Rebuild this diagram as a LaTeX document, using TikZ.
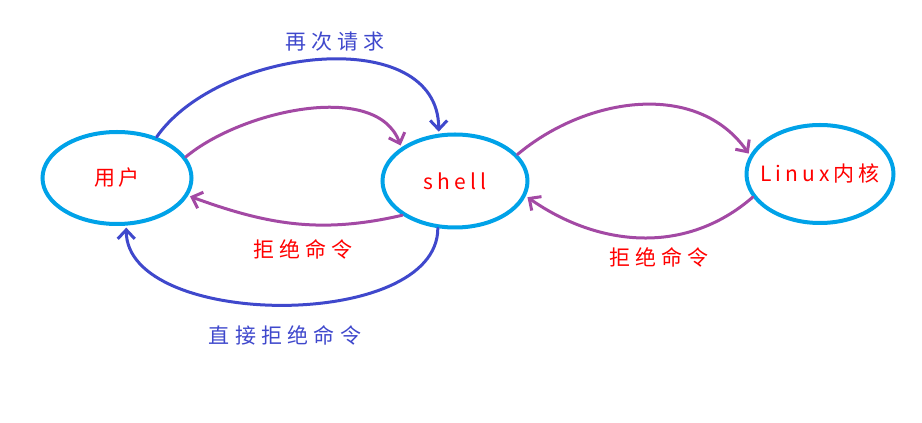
\documentclass[tikz,border=0pt]{standalone}
\usepackage{fontspec}
\setmainfont{Noto Sans CJK SC}[LetterSpace=25]
\usetikzlibrary{shapes.geometric,arrows.meta}
\definecolor{paintcyan}{RGB}{0,162,232}
\definecolor{paintblue}{RGB}{63,72,204}
\definecolor{paintpurple}{RGB}{163,73,164}
\definecolor{paintred}{RGB}{255,0,0}
\tikzstyle{state}=[ellipse,inner sep=0pt,line width=4pt,draw=paintcyan]
\tikzstyle{req}=[line width=3pt,line cap=round,draw=paintblue,-{Straight Barb[length=9pt,width=17pt]},shorten >=2pt]
\tikzstyle{rej}=[line width=3pt,line cap=round,draw=paintpurple,-{Straight Barb[length=9pt,width=17pt]},shorten >=2pt]
\tikzstyle{lbl}=[inner sep=0pt,font=\fontsize{21}{21}\selectfont]
\tikzstyle{statetext}=[inner sep=0pt,text=paintred,font=\fontsize{21}{21}\selectfont\addfontfeature{LetterSpace=19}]

\begin{document}
\begin{tikzpicture}[x=1pt,y=1pt]
  \useasboundingbox (0,0) rectangle (922,423);

  \node [state, minimum width=149pt, minimum height=92pt, label={[statetext]center:用户}] at (117, 245) (user) {};
  \node [state, minimum width=145pt, minimum height=93pt, label={[statetext]center:shell}] at (455, 242) (shell) {};
  \node [state, minimum width=147pt, minimum height=98pt, label={[statetext]center:Linux内核}] at (820, 249) (linux) {};

  \draw [req] (user.46) to [out=55, in=90] (shell.109);
  \draw [rej] (user.17) to [out=40, in=110, looseness=0.85] (shell.148);
  \draw [rej] (shell.213) to [out=193, in=-20] (user.-14);
  \draw [req] (shell.250) to [out=-90, in=-90, looseness=0.85] (user.-79);

  \draw [rej] (shell.23) to [out=40, in=125] (linux.165);
  \draw [rej] (linux.199) to [out=221, in=-35] (shell.-12);

  \node [lbl, text=paintblue] at (335, 381) (again) {再次请求};
  \node [lbl, text=paintred] at (303, 174) (deny) {拒绝命令};
  \node [lbl, text=paintblue] at (285, 88) (directdeny) {直接拒绝命令};
  \node [lbl, text=paintred] at (659, 166) (kerneldeny) {拒绝命令};
\end{tikzpicture}
\end{document}
